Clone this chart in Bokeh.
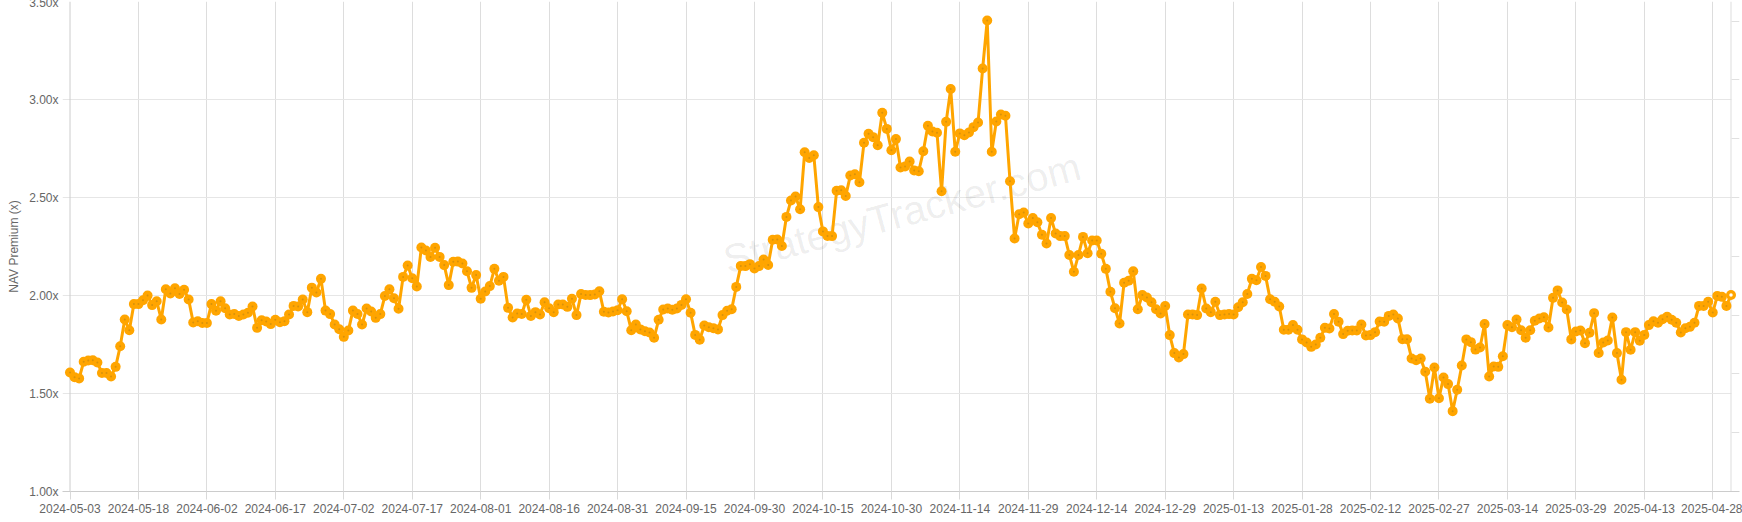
import pandas as pd
from bokeh.plotting import figure
from bokeh.models import (Range1d, FixedTicker, PrintfTickFormatter, DatetimeTickFormatter,
                          Span, Label, Grid, ColumnDataSource)
from bokeh.embed import file_html
from bokeh.resources import INLINE

start_date = "2024-05-03"
tick_labels = ["2024-05-03","2024-05-18","2024-06-02","2024-06-17","2024-07-02","2024-07-17","2024-08-01",
               "2024-08-16","2024-08-31","2024-09-15","2024-09-30","2024-10-15","2024-10-30","2024-11-14",
               "2024-11-29","2024-12-14","2024-12-29","2025-01-13","2025-01-28","2025-02-12","2025-02-27",
               "2025-03-14","2025-03-29","2025-04-13","2025-04-28"]
y_ticks = [1.0, 1.5, 2.0, 2.5, 3.0, 3.5]
right_ticks = [1.3, 1.6, 1.9, 2.2, 2.5, 2.8, 3.1, 3.4]
nav_premium = [
 1.607,1.583,1.577,1.662,1.668,1.67,1.658,1.605,1.605,1.587,1.636,1.741,1.878,1.823,1.956,
 1.956,1.976,2.0,1.951,1.971,1.878,2.032,2.01,2.037,2.008,2.029,1.98,1.862,1.869,1.86,
 1.86,1.956,1.922,1.971,1.935,1.903,1.906,1.895,1.903,1.912,1.944,1.835,1.874,1.867,1.854,
 1.876,1.864,1.869,1.903,1.947,1.944,1.98,1.915,2.04,2.015,2.085,1.923,1.905,1.852,1.828,
 1.789,1.821,1.923,1.906,1.852,1.934,1.918,1.886,1.905,1.997,2.032,1.986,1.932,2.095,2.153,
 2.088,2.046,2.245,2.23,2.196,2.243,2.197,2.155,2.053,2.172,2.173,2.163,2.124,2.039,2.104,
 1.983,2.02,2.048,2.136,2.075,2.095,1.937,1.888,1.908,1.906,1.978,1.896,1.915,1.903,1.966,
 1.935,1.915,1.954,1.954,1.942,1.983,1.9,2.008,2.003,2.002,2.005,2.022,1.917,1.913,1.918,
 1.925,1.981,1.92,1.823,1.852,1.827,1.818,1.811,1.784,1.876,1.929,1.934,1.927,1.934,1.952,
 1.981,1.912,1.799,1.774,1.847,1.838,1.833,1.827,1.9,1.922,1.93,2.044,2.151,2.15,2.16,
 2.138,2.15,2.184,2.156,2.284,2.286,2.253,2.401,2.485,2.505,2.44,2.731,2.702,2.716,2.451,
 2.327,2.304,2.303,2.534,2.537,2.508,2.612,2.619,2.578,2.779,2.825,2.808,2.767,2.932,2.85,
 2.741,2.798,2.653,2.658,2.684,2.638,2.634,2.736,2.866,2.837,2.83,2.532,2.886,3.054,2.733,
 2.827,2.818,2.832,2.859,2.883,3.158,3.403,2.733,2.888,2.923,2.917,2.583,2.291,2.415,2.423,
 2.367,2.395,2.374,2.31,2.265,2.395,2.316,2.303,2.303,2.207,2.121,2.207,2.299,2.216,2.281,
 2.281,2.213,2.136,2.019,1.935,1.857,2.065,2.075,2.124,1.93,2.002,1.99,1.966,1.93,1.908,
 1.946,1.798,1.706,1.684,1.701,1.903,1.903,1.9,2.036,1.934,1.915,1.968,1.9,1.903,1.905,
 1.903,1.94,1.966,2.008,2.085,2.078,2.145,2.1,1.981,1.968,1.944,1.825,1.825,1.849,1.825,
 1.776,1.76,1.738,1.75,1.784,1.835,1.832,1.906,1.866,1.803,1.82,1.821,1.821,1.852,1.796,
 1.798,1.813,1.867,1.866,1.896,1.903,1.883,1.777,1.777,1.679,1.67,1.679,1.611,1.473,1.633,
 1.476,1.582,1.548,1.41,1.519,1.643,1.776,1.762,1.724,1.735,1.855,1.587,1.638,1.636,1.69,
 1.849,1.838,1.878,1.823,1.784,1.823,1.871,1.883,1.889,1.837,1.988,2.026,1.964,1.929,1.776,
 1.816,1.821,1.757,1.81,1.91,1.707,1.76,1.77,1.888,1.706,1.57,1.813,1.723,1.813,1.769,
 1.799,1.849,1.869,1.861,1.879,1.891,1.876,1.861,1.811,1.833,1.84,1.861,1.947,1.947,1.968,
 1.913,1.998,1.993,1.947,2.003]

dates = pd.date_range(start_date, periods=len(nav_premium), freq="D")
MS_DAY = 86400000.0
to_ms = lambda t: pd.Timestamp(t).value / 1e6
first, last = to_ms(dates[0]), to_ms(dates[-1])
tick_ms = [to_ms(t) for t in tick_labels]
PX_PER_DAY = (1730.5 - 69.5) / (len(nav_premium) - 1)
x_start = first - (69.5 - 62) / PX_PER_DAY * MS_DAY
x_end = last + (1739 - 1730.5) / PX_PER_DAY * MS_DAY

p = figure(width=1742, height=526, output_backend="svg", toolbar_location=None,
           x_axis_type="datetime", x_range=Range1d(x_start, x_end), y_range=Range1d(1.0, 3.5),
           min_border_left=62, min_border_right=3, min_border_top=6, min_border_bottom=30,
           outline_line_color=None, margin=(-5, 0, 0, 0))
p.background_fill_color = "white"

FONT = "Liberation Sans"
ax = p.xaxis[0]
ax.ticker = FixedTicker(ticks=tick_ms)
ax.formatter = DatetimeTickFormatter(days="%Y-%m-%d", months="%Y-%m-%d", years="%Y-%m-%d",
                                     hours="%Y-%m-%d", minutes="%Y-%m-%d", seconds="%Y-%m-%d",
                                     milliseconds="%Y-%m-%d", microseconds="%Y-%m-%d")
ax.major_label_orientation = "horizontal"
ax.major_label_text_font = FONT
ax.major_label_text_font_size = "12px"
ax.major_label_text_color = "#666666"
ax.major_label_standoff = 4
ax.major_tick_out = 8
ax.major_tick_in = 0
ax.major_tick_line_color = "#d9d9d9"
ax.minor_tick_line_color = None
ax.axis_line_color = "#cccccc"

ay = p.yaxis[0]
ay.ticker = FixedTicker(ticks=y_ticks)
ay.formatter = PrintfTickFormatter(format="%.2fx")
ay.major_label_text_font = FONT
ay.major_label_text_font_size = "12px"
ay.major_label_text_color = "#666666"
ay.major_label_standoff = 4
ay.major_tick_out = 0
ay.major_tick_in = 0
ay.minor_tick_line_color = None
ay.axis_line_color = None
ay.axis_label = "NAV Premium (x)"
ay.axis_label_text_font = FONT
ay.axis_label_text_font_size = "12px"
ay.axis_label_text_font_style = "normal"
ay.axis_label_text_color = "#666666"
ay.axis_label_standoff = 5

p.xgrid[0].ticker = FixedTicker(ticks=[t for t in tick_ms if t != first])
p.xgrid[0].grid_line_color = "#dddddd"
p.ygrid[0].ticker = FixedTicker(ticks=y_ticks)
p.ygrid[0].grid_line_color = "#e6e6e6"
p.ygrid[0].cross_bounds = (x_start, last)

p.add_layout(Grid(dimension=1, ticker=FixedTicker(ticks=right_ticks), grid_line_color="#e0e0e0",
                  cross_bounds=(last, x_end)))
p.add_layout(Span(location=first, dimension="height", line_color="#cccccc", line_width=1, level="underlay"))
p.add_layout(Span(location=last, dimension="height", line_color="#dddddd", line_width=1, level="underlay"))

p.add_layout(Label(x=662, y=231, x_units="screen", y_units="screen", text="StrategyTracker.com",
                   text_font=FONT, text_font_size="40px", text_color="#000000", text_alpha=0.08,
                   text_align="left", text_baseline="alphabetic", angle=15, angle_units="deg",
                   level="underlay"))

src = ColumnDataSource(dict(x=dates, y=nav_premium))
p.line("x", "y", source=src, line_color="#FFA500", line_width=3, line_join="round")
p.scatter("x", "y", source=src, size=10, marker="circle", fill_color="#FFA500", line_color="#FFA500", line_width=0)
p.scatter("x", "y", source=src, size=2, marker="circle", fill_color="#d8920a", line_color=None)
p.scatter([dates[-1]], [nav_premium[-1]], size=6, marker="circle", fill_color="white",
          line_color="#FFA500", line_width=2.5)

open("out.html", "w").write(file_html(p, INLINE))
